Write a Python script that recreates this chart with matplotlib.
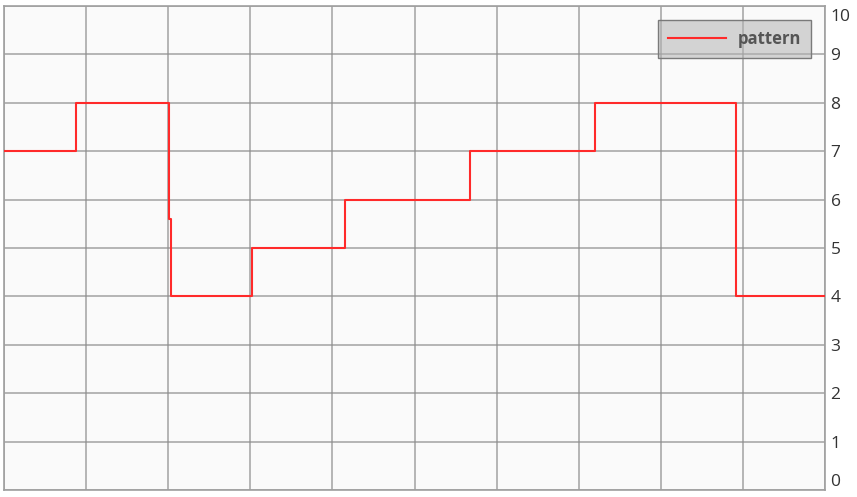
import numpy as np
import matplotlib
matplotlib.use("Agg")
from matplotlib import pyplot as plt
from matplotlib.transforms import ScaledTranslation

plt.rcParams['font.family'] = ['Open Sans', 'DejaVu Sans']

# step points (x in grid units, value holds until next x)
step_x = [0.0, 0.877, 2.01, 2.03, 3.02, 4.15, 5.68, 7.20, 8.92, 10.0]
step_y = [7, 8, 5.6, 4, 5, 6, 7, 8, 4, 4]
y_ticks = list(range(0, 11))
series_name = "pattern"

W, H = 857, 497
fig = plt.figure(figsize=(W / 100, H / 100), dpi=100)
fig.patch.set_facecolor('white')
ax = fig.add_axes([4 / W, 7 / H, 821 / W, 484 / H])
ax.set_facecolor('#fafafa')

ax.step(step_x, step_y, where='post', color='#ff2a2a', lw=1.5, label=series_name, zorder=3)

ax.set_xlim(0, 10)
ax.set_ylim(0, 10)
ax.set_xticks(np.arange(0, 11, 1))
ax.set_yticks(y_ticks)
ax.grid(True, color='#8c8c8c', lw=1.1, alpha=0.8)
ax.tick_params(axis='x', length=0, labelbottom=False)
ax.yaxis.tick_right()
ax.tick_params(axis='y', length=0, pad=4, labelsize=12.5, labelcolor='#333333')
for sp in ax.spines.values():
    sp.set_color('#a0a0a0')
    sp.set_linewidth(1.2)

# end labels sit inside the plot range
labels = ax.get_yticklabels()
labels[0].set_verticalalignment('bottom')
labels[-1].set_verticalalignment('top')
labels[-1].set_transform(labels[-1].get_transform()
                         + ScaledTranslation(0, -3 / 100, fig.dpi_scale_trans))

leg = ax.legend(loc='upper right', bbox_to_anchor=(807 / 821, 1 - 14 / 484),
                frameon=True, fancybox=False, handlelength=3.5, handletextpad=0.7,
                borderpad=0.6, borderaxespad=0,
                prop={'weight': 'bold', 'size': 12})
frame = leg.get_frame()
frame.set_alpha(None)
frame.set_facecolor((0.70, 0.70, 0.70, 0.55))
frame.set_edgecolor('#7a7a7a')
for t in leg.get_texts():
    t.set_color('#555555')

fig.savefig('out.png', dpi=100)
